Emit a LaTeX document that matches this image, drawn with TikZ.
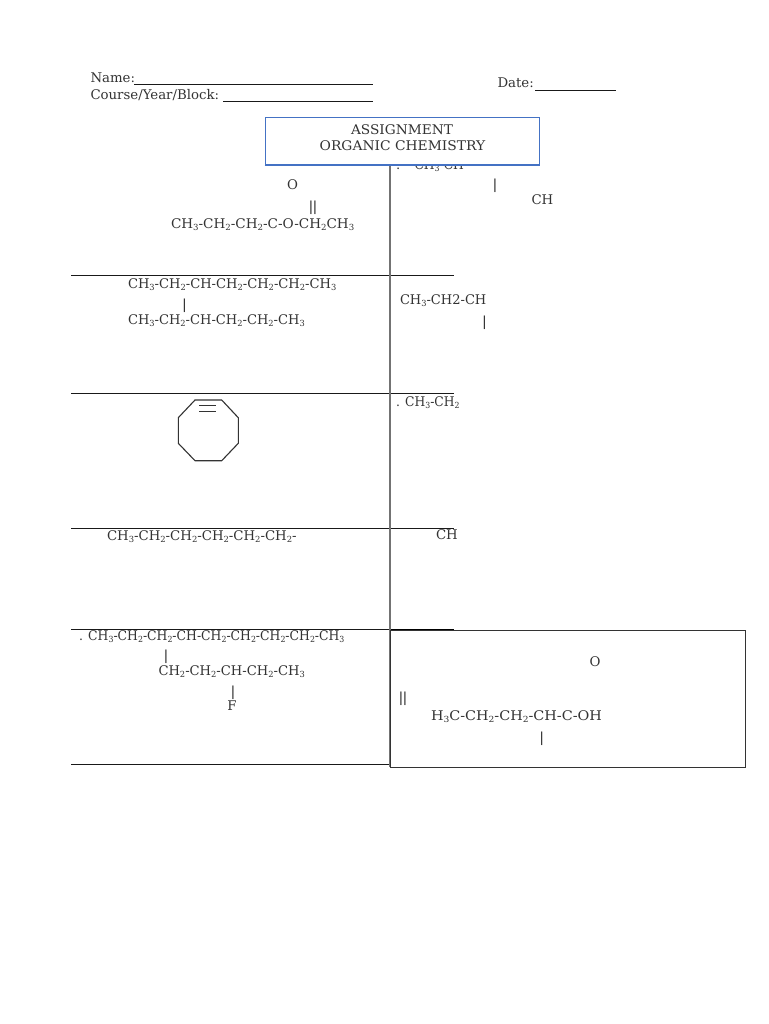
\documentclass[tikz,border=0pt]{standalone}
\usepackage{fontspec}
\setmainfont{DejaVu Serif}
\newfontfamily\barfont{Liberation Sans}
\newcommand{\sbs}[1]{\raisebox{-1.8pt}{\fontsize{8.4}{8}\selectfont #1}}
\newcommand{\Me}{CH\sbs{3}}
\newcommand{\Mt}{CH\sbs{2}}
\newcommand{\hs}[2]{\scalebox{#1}[1]{#2}}
\definecolor{inkc}{HTML}{333333}
\definecolor{boxblue}{HTML}{4472C4}
\tikzset{
  txt/.style={anchor=base west,inner sep=0pt,outer sep=0pt,text=inkc,font=\fontsize{13.3}{15}\selectfont},
  ctxt/.style={txt,anchor=base},
  barmark/.style={anchor=base,inner sep=0pt,outer sep=0pt,text=black!80,font=\barfont\fontsize{14.5}{15}\selectfont},
  rulel/.style={draw=black!90,line width=0.8pt},
  greyl/.style={draw=black!55,line width=1.1pt},
  ring/.style={draw=black!80,line width=1.1pt}
}
\begin{document}
\begin{tikzpicture}[x=1pt,y=-1pt]
\useasboundingbox[fill=white] (0,0) rectangle (768,1024);
% header
\node[txt] (name) at (90.5,82.5) {Name:};
\node[txt] (course) at (90.5,99.5) {Course/Year/Block:};
\node[txt] (date) at (497.5,87.5) {Date:};
\coordinate (n1) at (134,84.5); \coordinate (n2) at (372.5,84.5);
\coordinate (c1) at (223,101); \coordinate (c2) at (372.5,101);
\coordinate (d1) at (535,90.5); \coordinate (d2) at (615.5,90.5);
\draw[rulel] (n1) -- (n2); \draw[rulel] (c1) -- (c2); \draw[rulel] (d1) -- (d2);
% right column text behind the title box
\node[txt] (r1dot) at (396,170) {.};
\node[txt] (r1) at (414.5,170) {\hs{0.925}{\Me-CH}};
% horizontal rules
\coordinate (a1) at (71,275.5); \coordinate (a2) at (454,275.5);
\coordinate (b1) at (71,393.5); \coordinate (b2) at (454,393.5);
\coordinate (e1) at (71,528); \coordinate (e2) at (454,528);
\coordinate (f1) at (71,629.5); \coordinate (f2) at (454,629.5);
\coordinate (g1) at (71,764); \coordinate (g2) at (390,764);
\draw[rulel] (a1) -- (a2); \draw[rulel] (b1) -- (b2); \draw[rulel] (e1) -- (e2);
\draw[rulel] (f1) -- (f2); \draw[rulel] (g1) -- (g2);
\draw[draw=black,line width=1.2pt] (390,629.5) -- (f2);
% column divider
\coordinate (v1) at (390,165); \coordinate (v2) at (390,767);
\draw[greyl] (v1) -- (v2);
% title box
\node[draw=boxblue,fill=white,line width=1.1pt,minimum width=274.5pt,minimum height=47.5pt,inner sep=0pt,anchor=north west] (title) at (264.5,117) {};
\draw[boxblue,line width=1.6pt] (title.south west) -- (title.south east);
\node[ctxt] (t1) at (402,134.5) {\hs{1.03}{ASSIGNMENT}};
\node[ctxt] (t2) at (402.5,150.5) {\hs{1.04}{ORGANIC CHEMISTRY}};
% item 1
\node[ctxt] (o1) at (292.5,190) {O};
\node[barmark] (db1) at (313,211.5) {||};
\node[txt] (m1) at (171,228.5) {\hs{1.02}{\Me-\Mt-\Mt-C-O-\Mt\Me}};
% item 2
\node[txt] (m2a) at (128,288.5) {\hs{0.985}{\Me-\Mt-CH-\Mt-\Mt-\Mt-\Me}};
\node[barmark] (s2) at (184.5,309) {|};
\node[txt] (m2b) at (128,324.5) {\hs{0.983}{\Me-\Mt-CH-\Mt-\Mt-\Me}};
% item 3 ring
\coordinate (p1) at (195,400); \coordinate (p2) at (221.7,400);
\coordinate (p3) at (238.3,417.7); \coordinate (p4) at (238.3,443.3);
\coordinate (p5) at (221.7,460.7); \coordinate (p6) at (195,460.7);
\coordinate (p7) at (178.3,443.3); \coordinate (p8) at (178.3,417.7);
\draw[ring] (p1) -- (p2) -- (p3) -- (p4) -- (p5) -- (p6) -- (p7) -- (p8) -- cycle;
\coordinate (q1) at (199,405.7); \coordinate (q2) at (216,405.7);
\coordinate (q3) at (199,411.7); \coordinate (q4) at (216,411.7);
\draw[ring] (q1) -- (q2); \draw[ring] (q3) -- (q4);
% item 4
\node[txt] (m4) at (107,540.5) {\Me-\Mt-\Mt-\Mt-\Mt-\Mt-};
% item 5
\node[txt] (m5a) at (79,640.5) {\hs{0.933}{. \Me-\Mt-\Mt-CH-\Mt-\Mt-\Mt-\Mt-\Me}};
\node[barmark] (s5a) at (166,660) {|};
\node[txt] (m5b) at (158.5,675.5) {\hs{0.987}{\Mt-\Mt-CH-\Mt-\Me}};
\node[barmark] (s5b) at (233,696.5) {|};
\node[ctxt] (f) at (232,710.5) {F};
% right column
\node[barmark] (s6) at (495,189.5) {|};
\node[txt] (ch6) at (531.5,204.5) {CH};
\node[txt] (r2) at (400,304.5) {\hs{0.98}{\Me-CH2-CH}};
\node[barmark] (s7) at (484.5,326.5) {|};
\node[txt] (r3) at (396,406.5) {\hs{0.926}{. \Me-\Mt}};
\node[txt] (ch8) at (436,539.5) {CH};
% bottom right box
\node[draw=black!80,line width=0.9pt,minimum width=354.5pt,minimum height=137pt,inner sep=0pt,anchor=north west] (acid) at (390,630) {};
\node[ctxt] (o9) at (595,666.5) {O};
\node[barmark] (db9) at (403,702) {||};
\node[txt] (m9) at (431,720.5) {\hs{1.08}{H\sbs{3}C-\Mt-\Mt-CH-C-OH}};
\node[barmark] (s9) at (541.7,742.5) {|};
\end{tikzpicture}
\end{document}
